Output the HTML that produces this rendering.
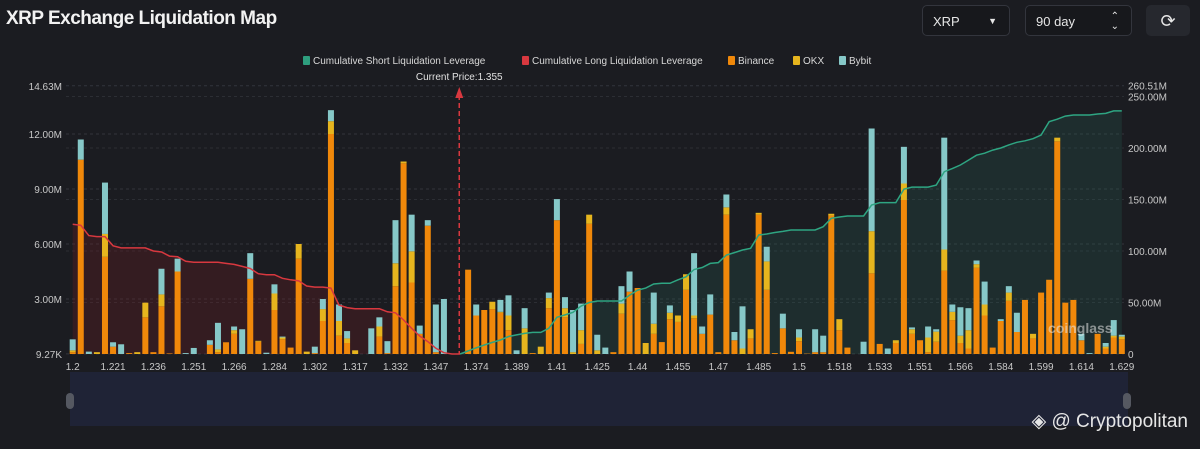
<!DOCTYPE html>
<html><head><meta charset="utf-8">
<style>
html,body{margin:0;padding:0;background:#1b1c21;width:1200px;height:449px;overflow:hidden;font-family:"Liberation Sans",sans-serif;}
#title{position:absolute;left:6px;top:8px;color:#f2f2f2;font-size:19px;font-weight:bold;letter-spacing:-0.5px;}
.ctl{position:absolute;top:5px;height:31px;border:1px solid #33353d;border-radius:5px;background:#17181c;color:#e6e6e6;font-size:13px;line-height:31px;box-sizing:border-box;padding-left:10px;}
#wm{position:absolute;right:12px;top:410px;color:#e6e6e6;font-size:19px;}
</style></head><body>
<div id="title">XRP Exchange Liquidation Map</div>
<div class="ctl" style="left:922px;width:88px">XRP<span style="position:absolute;right:12px;font-size:9px">▼</span></div>
<div class="ctl" style="left:1025px;width:107px">90 day<span style="position:absolute;right:12px;font-size:10px;line-height:10px;top:6px">⌃<br>⌄</span></div>
<div class="ctl" style="left:1146px;width:44px;background:#26282e;border-color:#26282e;text-align:center;padding:0;font-size:18px">⟳</div>
<svg id="chart" width="1200" height="449" style="position:absolute;left:0;top:0"></svg>
<div id="wm">◈ @ Cryptopolitan</div>
<script>
const binance=[0.1,10.6,0,0,5.3,0.4,0,0.05,0,2.0,0.1,2.6,0.03,4.5,0,0,0,0.5,0.1,0.64,1.1,0,4.1,0.67,0,2.4,0.8,0.35,5.2,0,0.05,1.8,12.0,1.0,0.6,0,0,0,0.95,0.05,3.7,10.4,3.9,1.1,7.0,0.1,0,0,0,4.6,2.1,2.4,2.45,2.25,1.3,0,0,0.05,0,2.5,7.3,2.0,0,0.55,7.1,0,0,0.1,2.2,3.4,3.6,0,1.1,0.65,1.9,1.75,3.5,1.95,1.1,2.15,0.1,7.6,0.75,0,0.85,7.6,3.5,0.05,1.4,0.12,0.7,0.02,0.1,0.1,7.55,1.3,0.35,0,0,4.4,0.55,0,0.6,8.4,1.1,0.75,0.1,0.67,4.55,1.85,0.6,0.3,4.7,2.1,0.35,1.8,2.9,1.2,2.95,0.85,3.35,4.05,11.6,2.8,2.95,0.75,0,1.1,0.3,0.9,0.8];
const okx=[0.1,0,0,0.1,1.25,0,0,0,0.1,0.8,0,0.65,0,0,0,0,0,0,0.15,0,0.2,0,0,0.05,0,0.9,0.1,0,0.8,0.13,0,0.65,0.7,0.8,0.25,0.2,0,0,0.55,0,1.25,0.1,1.7,0,0,0,0,0,0,0,0,0,0.4,0.05,0.8,0,1.4,0,0.4,0.55,0,0.5,0.1,0.75,0.5,0.2,0,0,0.55,0,0,0.6,0.55,0,0.35,0.35,0.85,0.15,0,0,0,0.4,0,0.3,0.5,0.1,1.55,0,0,0,0.2,0,0,0,0.1,0.6,0,0,0,2.3,0,0,0.15,0.9,0.25,0,0.8,0.55,1.15,0.45,0.4,1.0,0.2,0.6,0,0,0.45,0,0,0.25,0,0,0.2,0,0,0,0,0,0.1,0.1,0.15];
const bybit=[0.6,1.1,0.13,0,2.8,0.24,0.53,0,0,0,0,1.4,0,0.7,0.05,0.33,0,0.25,1.45,0,0.2,1.35,1.4,0,0.07,0.5,0.05,0,0,0,0.35,0.55,0.6,0.9,0.4,0,0,1.4,0.5,0.65,2.35,0,2.0,0.45,0.3,2.6,3.0,0,0,0,0.6,0,0,0.65,1.1,0.2,1.1,0,0,0.3,1.15,0.6,2.3,1.45,0,0.85,0.35,0,0.95,1.1,0,0,1.7,0,0.4,0,0,3.4,0.4,1.1,0,0.7,0.45,2.3,0,0,0.8,0,0.8,0,0.45,0,1.25,0.9,0,0,0,0,0.67,5.6,0,0.3,0,2.0,0.1,0,0.6,0.13,6.1,0.4,1.55,1.2,0.2,1.25,0,0.1,0.35,1.05,0,0,0,0,0,0,0,0.35,0.05,0,0.2,0.85,0.1];
const longCum=[126,125,115,114,114,105,103,103,103,103,100,99,95,94.5,90,89,89,89,89,88,87,85,83,78,77,77,73.5,72,71,66,65,65,64,47.5,45,44,44,44,44,41,40,33,25,17.5,12,5.5,1.3,0,0];
const shortCum=[0,3,6,8.7,11.3,13.6,17,18.5,20,21,21,25,35.6,38,40.5,46.6,50,51.5,51.5,51.5,51.5,57,62,64,68,68.6,68.6,72,75,82,84,88,88.7,96,98.4,101,102.6,115.5,116.5,118,119,120.4,120.4,120.4,120.4,123.6,131.7,133,134,134,134,144.7,147,147,147,160,162,162,162,164,177,180,183.5,188.3,193,195,198,200,203,205.5,207,209,212.6,225.6,228,231,232,232,232,233,233.6,236,236];
const shortStart=48;
const xLabels=["1.2","1.221","1.236","1.251","1.266","1.284","1.302","1.317","1.332","1.347","1.374","1.389","1.41","1.425","1.44","1.455","1.47","1.485","1.5","1.518","1.533","1.551","1.566","1.584","1.599","1.614","1.629"];
const leftTicks=[0.00927,3,6,9,12,14.63];
const leftTickLabels=["9.27K","3.00M","6.00M","9.00M","12.00M","14.63M"];
const rightTicks=[0,50,100,150,200,250,260.51];
const rightTickLabels=["0","50.00M","100.00M","150.00M","200.00M","250.00M","260.51M"];
const priceIndex=47.9;

const NS="http://www.w3.org/2000/svg";
const svg=document.getElementById('chart');
const X0=72.7,STEP=8.07,Y0=354,PX_L=55/3,PX_R=51.5/50;
const xs=i=>X0+i*STEP;
const yl=v=>Y0-v*PX_L;
const yr=v=>Y0-v*PX_R;
function mk(t,a){const e=document.createElementNS(NS,t);for(const k in a)e.setAttribute(k,a[k]);svg.appendChild(e);return e;}
// gridlines + left ticks
leftTicks.forEach((v,i)=>{
 const g=mk('line',{x1:66,x2:1124,y1:yl(v),y2:yl(v),stroke:'#33353c','stroke-dasharray':'3,3','stroke-width':1});
 
 
 const t=mk('text',{x:62,y:yl(v)+4,fill:'#c8c8c8','font-size':10,'text-anchor':'end'});
 t.textContent=leftTickLabels[i];
 
 
});
rightTicks.forEach((v,i)=>{
 if(v>0&&v<260){const g=mk('line',{x1:66,x2:1124,y1:yr(v),y2:yr(v),stroke:'#2c2e34','stroke-dasharray':'3,3','stroke-width':1});
 
 }
 const t=mk('text',{x:1128,y:yr(v)+4,fill:'#c8c8c8','font-size':10});
 t.textContent=rightTickLabels[i];
 
 
});
// areas
function area(vals,start,fill,stroke,name){
 let d='',l='';
 vals.forEach((v,i)=>{const p=xs(start+i).toFixed(1)+','+yr(v).toFixed(1);d+=(i?'L':'M')+p;});
 l=d;
 d+='L'+xs(start+vals.length-1).toFixed(1)+','+Y0+'L'+xs(start).toFixed(1)+','+Y0+'Z';
 const a=mk('path',{d:d,fill:fill});
 
 
 return l;
}
const longPath=area(longCum,0,'rgba(120,30,35,0.28)','#d8383f','long-liquidation');
const shortPath=area(shortCum,shortStart,'rgba(40,110,95,0.22)','#2e9e7e','short-liquidation');
// bars
binance.forEach((b,i)=>{
 const o=okx[i],y=bybit[i],x=xs(i)-3;
 const r1=mk('rect',{x:x,y:yl(b),width:6,height:Math.max(0,Y0-yl(b)),fill:'#f0880a'});
 
 
 const r2=mk('rect',{x:x,y:yl(b+o),width:6,height:Math.max(0,yl(b)-yl(b+o)),fill:'#e6b51e'});
 
 
 const r3=mk('rect',{x:x,y:yl(b+o+y),width:6,height:Math.max(0,yl(b+o)-yl(b+o+y)),fill:'#86c8c8'});
 
 
});
const lp=mk('path',{d:longPath,fill:'none',stroke:'#d8383f','stroke-width':1.5});


const sp=mk('path',{d:shortPath,fill:'none',stroke:'#2ea582','stroke-width':1.5});


// price line
const px=xs(priceIndex);
const pl=mk('line',{x1:px,x2:px,y1:95,y2:Y0,stroke:'#d8383f','stroke-dasharray':'5,3','stroke-width':1.5});


const ar=mk('path',{d:`M${px-4},98L${px},87L${px+4},98Z`,fill:'#d8383f'});


const pt=mk('text',{x:px,y:80,fill:'#e0e0e0','font-size':10,'text-anchor':'middle'});
pt.textContent='Current Price:1.355';


// x labels
xLabels.forEach((s,i)=>{
 const t=mk('text',{x:xs(i*5),y:370,fill:'#c8c8c8','font-size':10,'text-anchor':'middle'});
 t.textContent=s;
 
 
});
// legend
const legItems=[['Cumulative Short Liquidation Leverage','#2e9e7e',310],['Cumulative Long Liquidation Leverage','#d8383f',529],['Binance','#f0880a',735],['OKX','#e6b51e',800],['Bybit','#86c8c8',846]];
legItems.forEach(l=>{
 const r=mk('rect',{x:l[2]-7,y:56,width:7,height:9,fill:l[1],rx:1});
 
 
 const t=mk('text',{x:l[2]+3,y:64,fill:'#d8d8d8','font-size':10});
 t.textContent=l[0];
 
 
});
// slider
const sl=mk('rect',{x:70,y:372,width:1058,height:54,fill:'#20243a',opacity:0.85});


[70,1127].forEach(hx=>{
 const h=mk('rect',{x:hx-4,y:393,width:8,height:16,rx:4,fill:'#555861'});
 
 
});
const cg=mk('text',{x:1048,y:333,fill:'rgba(230,230,230,0.55)','font-size':14,'font-weight':'bold'});
cg.textContent='coinglass';


</script>
</body></html>
